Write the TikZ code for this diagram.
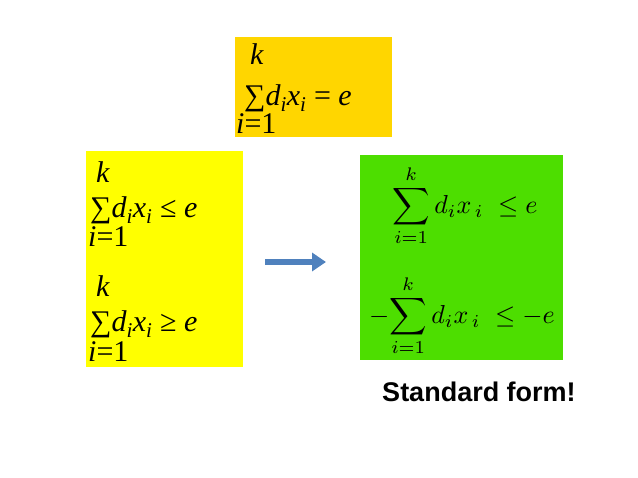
\documentclass[tikz,border=0pt]{standalone}
\usepackage{fontspec}
\usepackage{graphicx}
\usetikzlibrary{arrows.meta}
\setmainfont{Liberation Serif}
\newfontfamily\arialf{Liberation Sans}
\begin{document}
\begin{tikzpicture}[x=1pt,y=-1pt,
  t/.style={anchor=base west,inner sep=0pt,font=\fontsize{30}{30}\selectfont},
  box/.style={inner sep=0pt}]
\useasboundingbox (0,0) rectangle (638,478);
\fill[fill={rgb,255:red,255;green,214;blue,0}] (235,37) rectangle (392,137);
\fill[fill={rgb,255:red,255;green,255;blue,0}] (86,151) rectangle (243,367);
\fill[fill={rgb,255:red,77;green,222;blue,0}] (360,155) rectangle (563,360);
% top
\node[t] (a1) at (250,65) {\itshape k};
\node[t] (a2) at (244,106) {∑\itshape d\textsubscript{i}x\textsubscript{i}\upshape{} = \itshape e};
\node[t] (a3) at (236,134) {\itshape i\upshape =1};
% left
\node[t] (b1) at (96,183) {\itshape k};
\node[t] (b2) at (90,218) {∑\itshape d\textsubscript{i}x\textsubscript{i}\upshape{} ≤ \itshape e};
\node[t] (b3) at (88,247) {\itshape i\upshape =1};
\node[t] (c1) at (96,297) {\itshape k};
\node[t] (c2) at (90,332) {∑\itshape d\textsubscript{i}x\textsubscript{i}\upshape{} ≥ \itshape e};
\node[t] (c3) at (88,362) {\itshape i\upshape =1};
% right
\node[box] (g1) at (465,206) {\scalebox{2.6}{$\displaystyle\sum_{i=1}^{k} d_i x_{\,i}\;\le e$}};
\node[box] (g2) at (462,316) {\scalebox{2.6}{$\displaystyle-\!\sum_{i=1}^{k} d_i x_{\,i}\;\le -e$}};
% arrow
\coordinate (p) at (265,262);
\coordinate (q) at (326,262);
\draw[line width=6pt,draw={rgb,255:red,79;green,129;blue,189},-{Triangle[length=14pt,width=18pt]}] (p) -- (q);
\node[box,font=\arialf\bfseries\fontsize{27}{27}\selectfont] (s) at (479,392) {Standard form!};
\end{tikzpicture}
\end{document}
